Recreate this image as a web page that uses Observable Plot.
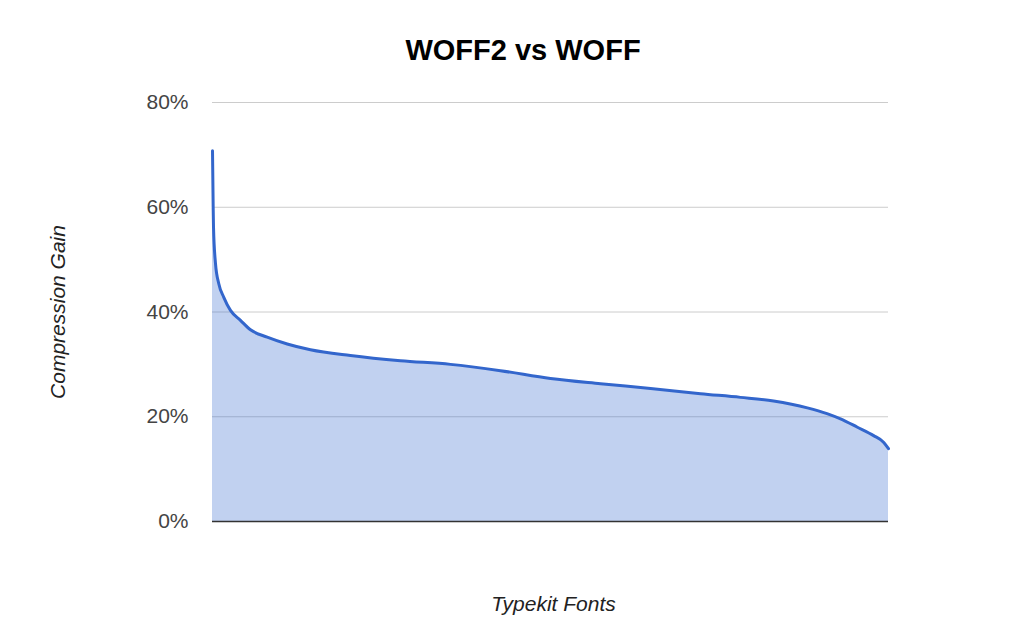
<!DOCTYPE html>
<html>
<head>
<meta charset="utf-8">
<script src="https://cdn.jsdelivr.net/npm/d3@7"></script>
<script src="https://cdn.jsdelivr.net/npm/@observablehq/plot@0.6"></script>
<style>
  html, body { margin: 0; padding: 0; background: #fff; }
  #title {
    box-sizing: border-box;
    width: 1024px; height: 80px;
    padding-top: 36px; padding-left: 22px;
    text-align: center;
    font-family: "Liberation Sans", Arial, sans-serif;
    font-weight: bold; font-size: 29px; line-height: 28px; color: #000;
  }
</style>
</head>
<body>
<div id="title">WOFF2 vs WOFF</div>
<div id="chart"></div>
<script>
// Rank of font (0..1000, sorted by gain) and compression gain (%)
const rank = [0, 1, 1.5, 4.4, 9.3, 16.7, 26.6, 41.4, 56.2, 80.9, 110.5, 144.9, 204, 278, 352, 426, 500, 574, 648, 722, 781, 830, 880, 909, 929, 954, 978, 993, 1000];
const gain = [70.8, 60, 56.2, 49.3, 45.4, 42.8, 40.3, 38.4, 36.6, 35.2, 33.9, 32.8, 31.7, 30.7, 30.0, 28.8, 27.3, 26.3, 25.4, 24.4, 23.7, 23.0, 21.7, 20.6, 19.6, 18.0, 16.4, 15.1, 13.9];
const yTicks = [0, 20, 40, 60, 80];
const xLabel = "Typekit Fonts";
const yLabel = "Compression Gain";

const data = rank.map((r, i) => ({rank: r, gain: gain[i]}));
const font = "Liberation Sans, Arial, sans-serif";

const chart = Plot.plot({
  width: 1024,
  height: 551,
  marginTop: 22,
  marginBottom: 110,
  marginLeft: 212,
  marginRight: 136,
  style: {fontFamily: font, fontSize: "21px", color: "#444", background: "#fff"},
  x: {domain: [0, 1000], axis: null},
  y: {domain: [0, 80], ticks: yTicks, tickFormat: d => d + "%"},
  marks: [
    Plot.gridY(yTicks.filter(d => d > 0), {stroke: "#ccc", strokeOpacity: 1, strokeWidth: 1}),
    Plot.areaY(data, {x: "rank", y: "gain", fill: "#3366cc", fillOpacity: 0.3, curve: "monotone-x"}),
    Plot.lineY(data, {x: "rank", y: "gain", stroke: "#3366cc", strokeWidth: 3, curve: "monotone-x"}),
    Plot.ruleY([0], {stroke: "#333", strokeWidth: 1.5}),
    Plot.axisY({ticks: yTicks, tickFormat: d => d + "%", tickSize: 0, tickPadding: 24, label: null, fontSize: 21, fill: "#444"}),
    Plot.text([yLabel], {frameAnchor: "left", textAnchor: "middle", dx: -154, rotate: -90, fontStyle: "italic", fontSize: 21, fill: "#222", lineAnchor: "middle"}),
    Plot.text([xLabel], {frameAnchor: "bottom", dy: 83, dx: 3, fontStyle: "italic", fontSize: 21, fill: "#222", lineAnchor: "middle"})
  ]
});
document.getElementById("chart").appendChild(chart);
</script>
</body>
</html>
